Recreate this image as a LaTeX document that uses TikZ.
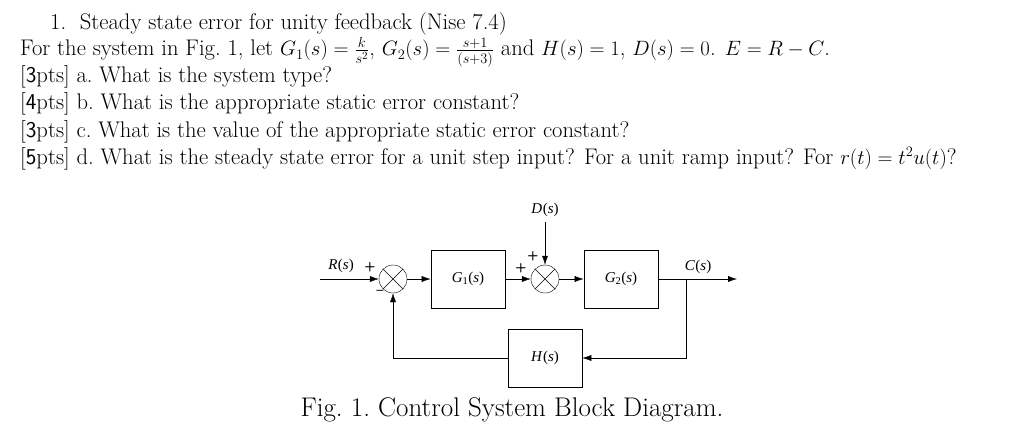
\documentclass[tikz,border=0pt]{standalone}
\usepackage{amsmath}
\usepackage{fontspec}
\newfontfamily\diagfont{Liberation Serif}
\newcommand{\tf}[2]{\textit{#1}\textsubscript{#2}(\textit{s})}
\usetikzlibrary{arrows.meta}
\begin{document}
\begin{tikzpicture}[x=1pt,y=-1pt]
    \tikzstyle{arrow} = [->,>={Latex[length=9pt,width=6pt]}]
    \tikzstyle{block} = [draw, thick, minimum width=74pt, minimum height=58pt, font=\diagfont\fontsize{15}{17}\selectfont]
    \tikzstyle{summer} = [draw, circle, minimum size=28pt, inner sep=0pt]
    \tikzstyle{lbl} = [font=\diagfont\fontsize{15}{17}\selectfont]
    \tikzstyle{txt} = [anchor=base west, inner sep=0pt, font=\fontsize{22.6}{26}\selectfont]
    \useasboundingbox (0,0) rectangle (1024,441);

    % Question text
    \node [txt] (L1) at (50,30) {1.\ \ Steady state error for unity feedback (Nise 7.4)};
    \node [txt] (L2) at (20,56) {For the system in Fig.~1, let $G_1(s)=\frac{k}{s^2}$, $G_2(s)=\frac{s+1}{(s+3)}$ and $H(s)=1$, $D(s)=0$. $E=R-C$.};
    \node [txt] (L3) at (20,83) {[\textsf{3}pts] a.\ What is the system type?};
    \node [txt] (L4) at (20,110) {[\textsf{4}pts] b.\ What is the appropriate static error constant?};
    \node [txt] (L5) at (20,137) {[\textsf{3}pts] c.\ What is the value of the appropriate static error constant?};
    \node [txt] (L6) at (20,164) {[\textsf{5}pts] d.\ What is the steady state error for a unit step input? For a unit ramp input? For $r(t)=t^2u(t)$?};

    % Summing junctions
    \node [summer] (Sum1) at (393,279) {};
    \draw (Sum1.north west) -- (Sum1.south east) (Sum1.north east) -- (Sum1.south west);
    \node [summer] (Sum2) at (545,279) {};
    \draw (Sum2.north west) -- (Sum2.south east) (Sum2.north east) -- (Sum2.south west);

    % Blocks
    \node [block] (G1) at (468,279) {\tf{G}{1}};
    \node [block] (G2) at (621,279) {\tf{G}{2}};
    \node [block] (H) at (545,358) {\tf{H}{}};

    % Input, disturbance and output
    \coordinate (In) at (320,279);
    \node [lbl] (R) at (341,266) {\tf{R}{}};
    \node [lbl] (D) at (545,210) {\tf{D}{}};
    \coordinate (Dtop) at (545,222);
    \coordinate (Branch) at (686,279);
    \coordinate (Out) at (737,279);
    \node [lbl] (C) at (698,267) {\tf{C}{}};
    \coordinate (FbRight) at (686,358);
    \coordinate (FbLeft) at (393,358);

    % Forward path
    \draw [arrow] (In) -- (Sum1);
    \draw [arrow] (Sum1) -- (G1);
    \draw [arrow] (G1) -- (Sum2);
    \draw [arrow] (Dtop) -- (Sum2);
    \draw [arrow] (Sum2) -- (G2);
    \draw [arrow] (G2) -- (Out);

    % Feedback path
    \draw [arrow] (Branch) -- (FbRight) -- (H);
    \draw [arrow] (H) -- (FbLeft) -- (Sum1);

    % Signs
    \node [font=\sffamily\bfseries\fontsize{13}{13}\selectfont] (P1) at (370,267) {+};
    \node [font=\sffamily\bfseries\fontsize{13}{13}\selectfont] (M1) at (380,292) {--};
    \node [font=\sffamily\bfseries\fontsize{13}{13}\selectfont] (P2) at (521,268) {+};
    \node [font=\sffamily\bfseries\fontsize{13}{13}\selectfont] (P3) at (533,256) {+};

    % Caption
    \node [font=\fontsize{27}{31}\selectfont] (Cap) at (512,410) {Fig.~1.\ Control System Block Diagram.};
\end{tikzpicture}
\end{document}
